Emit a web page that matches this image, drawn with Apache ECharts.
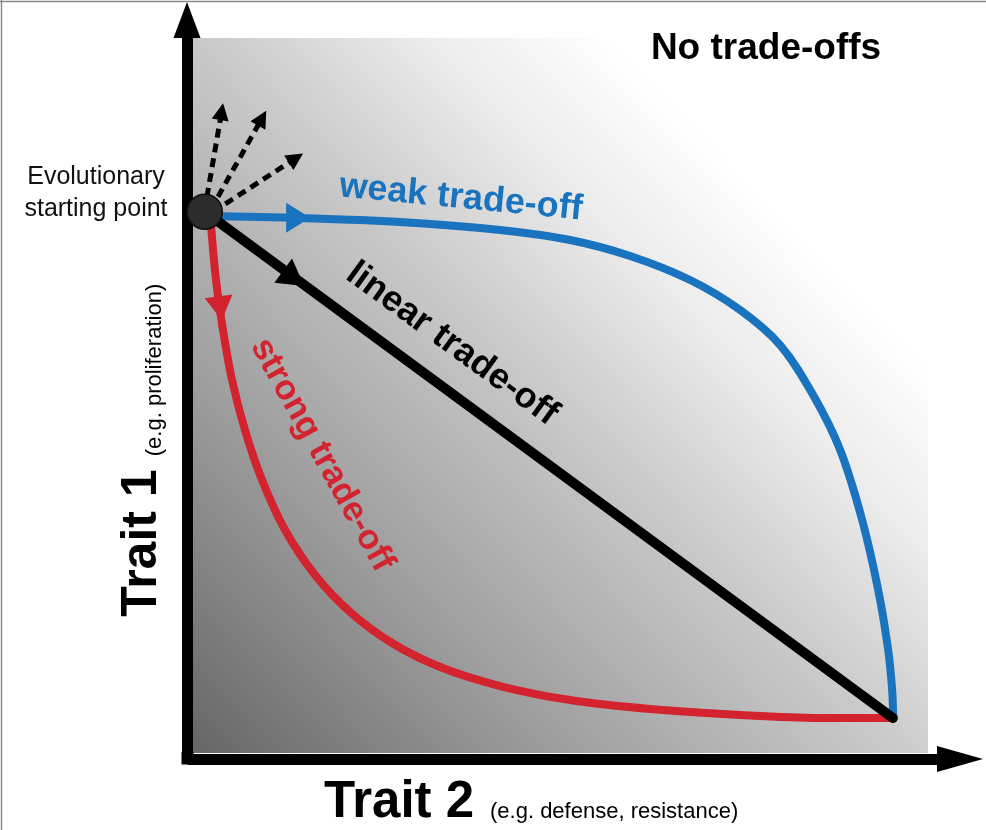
<!DOCTYPE html>
<html>
<head>
<meta charset="utf-8">
<script src="https://cdn.jsdelivr.net/npm/echarts@6/dist/echarts.min.js"></script>
<style>
html,body{margin:0;padding:0;background:#fff;}
#chart{width:986px;height:830px;}
</style>
</head>
<body>
<div id="chart"></div>
<script>
// ---- data (axis units: 0..100 of the plotting square) ----
const startPoint = [1.6, 75.7];
const endPoint = [95.2, 4.9];
const linearCurve = [startPoint, endPoint];
const weakCurve = [
  [1.63, 75.10], [14.56, 74.83], [28.16, 74.27], [41.77, 73.15], [51.29, 71.75],
  [59.46, 69.51], [67.62, 66.15], [74.42, 61.96], [79.86, 57.06], [84.35, 50.07],
  [88.03, 42.38], [91.02, 32.59], [93.20, 22.80], [94.56, 14.41], [95.10, 8.81], [95.24, 4.90]
];
const strongCurve = [
  [2.45, 73.85], [3.13, 66.15], [4.08, 59.16], [5.31, 52.17], [7.07, 45.17],
  [9.39, 38.18], [12.52, 31.19], [16.60, 24.90], [21.36, 19.72], [27.07, 15.38],
  [33.61, 12.03], [41.77, 9.37], [51.29, 7.41], [62.18, 6.15], [74.42, 5.31],
  [85.31, 4.90], [95.24, 4.90]
];
// direction arrows on the curves: [x, y, heading in degrees]
const weakArrow = [14.3, 74.85, -90];
const linearArrow = [13.7, 66.4, -126];
const strongArrow = [3.7, 62.2, -172];
// exploratory (dashed) arrows from the starting point
const exploreFrom = [[1.9, 77.8], [3.4, 77.8], [4.4, 76.8]];
const exploreTo = [[3.9, 89.7], [9.4, 88.8], [14.0, 83.2]];
// texts
const titleText = 'No trade-offs';
const startText = 'Evolutionary\nstarting point';
const curveLabels = ['weak trade-off', 'linear trade-off', 'strong trade-off'];
const yTitle = 'Trait 1';
const yNote = '(e.g. proliferation)';
const xTitle = 'Trait 2';
const xNote = '(e.g. defense, resistance)';

const BLUE = '#1a73be';
const RED = '#d3232f';
const FONT = "'Liberation Sans', Arial, Helvetica, sans-serif";

const chart = echarts.init(document.getElementById('chart'));
const deg = Math.PI / 180;

const option = {
  backgroundColor: '#ffffff',
  animation: false,
  grid: { left: 193, right: 49, top: 38, bottom: 77, containLabel: false },
  xAxis: {
    type: 'value', min: 0, max: 101.2, offset: 6, position: 'bottom',
    axisLine: { show: true, onZero: false, symbol: ['none', 'triangle'], symbolSize: [26, 46], symbolOffset: [0, 23],
      lineStyle: { color: '#000', width: 11, cap: 'square' } },
    axisTick: { show: false }, axisLabel: { show: false }, splitLine: { show: false }
  },
  yAxis: {
    type: 'value', min: 0, max: 100, offset: 6, position: 'left',
    axisLine: { show: true, onZero: false, symbol: ['none', 'triangle'], symbolSize: [27, 36], symbolOffset: [0, 18],
      lineStyle: { color: '#000', width: 11, cap: 'square' } },
    axisTick: { show: false }, axisLabel: { show: false }, splitLine: { show: false }
  },
  graphic: [
    { type: 'rect', z: -10, silent: true, shape: { x: 193, y: 38, width: 735, height: 715 },
      style: { fill: new echarts.graphic.LinearGradient(0, 1, 1, 0, [
        { offset: 0, color: '#666666' },
        { offset: 0.25, color: '#9c9c9c' },
        { offset: 0.5, color: '#cbcbcb' },
        { offset: 0.65, color: '#ececec' },
        { offset: 0.78, color: '#ffffff' },
        { offset: 1, color: '#ffffff' }
      ]) } },
    { type: 'rect', z: 50, silent: true, shape: { x: 181.5, y: 752, width: 12, height: 12.5 }, style: { fill: '#000' } },
    { type: 'line', z: 50, silent: true, shape: { x1: 0, y1: 1.5, x2: 986, y2: 1.5 }, style: { stroke: '#8a8a8a', lineWidth: 1.5 } },
    { type: 'line', z: 50, silent: true, shape: { x1: 1.5, y1: 0, x2: 1.5, y2: 830 }, style: { stroke: '#8a8a8a', lineWidth: 1.5 } },
    { type: 'text', z: 100, x: 766, y: 49, style: { text: titleText, font: 'bold 37px ' + FONT, fill: '#000', align: 'center', verticalAlign: 'middle' } },
    { type: 'text', z: 100, x: 96, y: 193, style: { text: startText, font: '25px ' + FONT, fill: '#111', align: 'center', verticalAlign: 'middle', lineHeight: 32 } },
    { type: 'text', z: 100, x: 461, y: 198, rotation: -5.5 * deg, style: { text: curveLabels[0], font: 'bold 36px ' + FONT, fill: BLUE, align: 'center', verticalAlign: 'middle' } },
    { type: 'text', z: 100, x: 452, y: 344, rotation: -36 * deg, style: { text: curveLabels[1], font: 'bold 36px ' + FONT, fill: '#000', align: 'center', verticalAlign: 'middle' } },
    { type: 'text', z: 100, x: 322, y: 455, rotation: -61 * deg, style: { text: curveLabels[2], font: 'bold 35px ' + FONT, fill: RED, align: 'center', verticalAlign: 'middle' } },
    { type: 'text', z: 100, x: 142, y: 543, rotation: 90 * deg, style: { text: yTitle, font: 'bold 50px ' + FONT, fill: '#000', align: 'center', verticalAlign: 'middle' } },
    { type: 'text', z: 100, x: 155, y: 370, rotation: 90 * deg, style: { text: yNote, font: '22px ' + FONT, fill: '#000', align: 'center', verticalAlign: 'middle' } },
    { type: 'text', z: 100, x: 399, y: 803, style: { text: xTitle, font: 'bold 51px ' + FONT, fill: '#000', align: 'center', verticalAlign: 'middle' } },
    { type: 'text', z: 100, x: 490, y: 812, style: { text: xNote, font: '22px ' + FONT, fill: '#000', align: 'left', verticalAlign: 'middle' } }
  ],
  series: [
    { type: 'line', name: 'weak', data: weakCurve, smooth: 0.35, symbol: 'none', z: 3,
      lineStyle: { color: BLUE, width: 8, cap: 'round' } },
    { type: 'line', name: 'strong', data: strongCurve, smooth: 0.35, symbol: 'none', z: 3,
      lineStyle: { color: RED, width: 8, cap: 'round' } },
    { type: 'line', name: 'linear', data: linearCurve, symbol: 'none', z: 4,
      lineStyle: { color: '#000', width: 10, cap: 'round' } },
    { type: 'lines', coordinateSystem: 'cartesian2d', z: 4,
      symbol: ['none', 'triangle'], symbolSize: 17,
      lineStyle: { color: '#000', width: 5, type: [9, 6], opacity: 1 },
      data: exploreFrom.map((p, i) => ({ coords: [p, exploreTo[i]] })) },
    { type: 'scatter', z: 5, symbol: 'triangle',
      data: [
        { value: weakArrow.slice(0, 2), symbolRotate: weakArrow[2], symbolSize: [30, 24], itemStyle: { color: BLUE, opacity: 1 } },
        { value: linearArrow.slice(0, 2), symbolRotate: linearArrow[2], symbolSize: [30, 26], itemStyle: { color: '#000', opacity: 1 } },
        { value: strongArrow.slice(0, 2), symbolRotate: strongArrow[2], symbolSize: [28, 24], itemStyle: { color: RED, opacity: 1 } }
      ] },
    { type: 'scatter', z: 6, symbol: 'circle', symbolSize: 35,
      itemStyle: { color: '#2c2c2c', borderColor: '#111', borderWidth: 1.5, opacity: 1 },
      data: [startPoint] }
  ]
};
chart.setOption(option);
</script>
</body>
</html>
